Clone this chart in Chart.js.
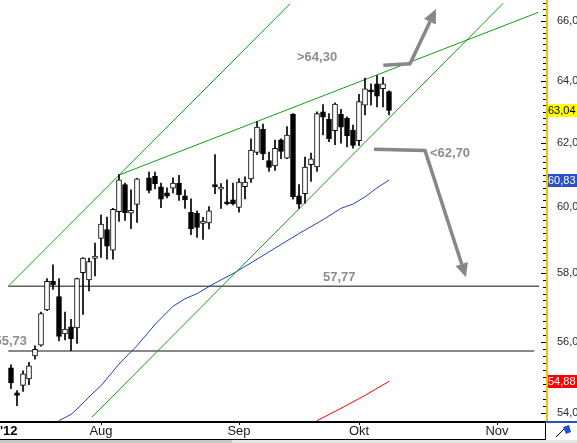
<!DOCTYPE html>
<html>
<head>
<meta charset="utf-8">
<script src="https://cdn.jsdelivr.net/npm/chart.js@4.4.0/dist/chart.umd.min.js"></script>
<style>
html, body { margin: 0; padding: 0; background: #fff; overflow: hidden; }
</style>
</head>
<body>
<canvas id="chart" width="577" height="443"></canvas>
<script>
// Daily candles: trading-day index (0 = first visible day, one day missing at 22)
const dayIdx = [0,1,2,3,4,5,6,7,8,9,10,11,12,13,14,15,16,17,18,19,20,21,
    23,24,25,26,27,28,29,30,31,32,33,34,35,36,37,38,39,40,41,42,43,44,45,46,47,48,49,50,
    51,52,53,54,55,56,57,58,59,60,61,62,63];
const opens = [55.26,54.56,54.77,54.95,55.60,55.91,56.92,57.76,57.31,56.23,56.43,56.40,58.02,57.80,58.44,59.04,59.31,58.69,59.86,60.69,59.81,60.08,
    60.90,60.95,60.62,60.44,60.58,60.74,60.34,59.84,59.81,59.50,59.51,60.68,60.55,60.16,60.22,59.99,60.63,60.87,61.70,62.43,61.44,61.27,62.10,61.52,62.92,60.34,60.41,61.31,
    61.24,62.99,62.75,62.39,62.92,62.78,62.41,62.07,63.21,63.70,63.90,63.74,63.65];
const highs = [55.35,54.62,55.18,55.42,55.89,56.86,57.84,58.25,57.84,56.86,56.65,57.86,58.47,58.45,58.90,59.76,59.69,59.96,61.00,60.74,60.53,60.89,
    61.08,61.08,60.74,60.59,60.90,60.98,60.53,60.25,59.88,59.68,60.01,61.63,60.72,60.84,60.74,60.88,60.93,62.13,62.68,62.60,61.71,62.09,62.13,62.52,62.94,60.69,61.55,61.68,
    62.99,63.23,62.94,63.28,63.07,62.83,62.57,63.56,64.09,63.90,64.17,64.11,63.67];
const lows = [54.68,54.20,54.60,54.79,55.51,55.88,56.90,57.52,56.03,56.06,55.75,55.96,56.79,57.48,57.92,58.47,58.42,58.42,59.56,59.59,59.34,59.53,
    60.43,60.56,59.98,60.28,60.43,60.20,59.96,59.16,59.07,59.01,59.33,60.41,59.96,60.06,60.06,59.84,60.25,60.76,61.63,61.47,61.10,61.13,61.50,61.50,60.24,59.96,60.12,60.79,
    61.10,62.25,62.04,61.94,61.99,61.87,61.83,61.91,62.89,63.21,63.15,63.15,62.89];
const closes = [54.84,54.49,55.09,55.32,55.79,56.82,57.76,57.66,56.16,56.37,56.09,57.84,58.45,58.35,58.51,59.48,58.81,59.93,60.84,59.83,59.90,60.87,
    60.51,60.71,60.24,60.33,60.74,60.38,60.22,59.33,59.38,59.57,59.88,60.63,60.57,60.10,60.10,60.77,60.77,61.77,62.50,61.65,61.23,61.83,61.73,62.25,60.32,60.09,61.24,61.50,
    62.94,62.82,62.13,63.24,62.50,62.23,61.92,63.32,63.74,63.64,63.50,63.90,63.04];

// Moving averages (read at sample days)
const maBlueIdx = [8,10,11,12,14,15,18,20,21,24,27,29,31,34,37,40,44,48,52,55,57,59,61,63];
const maBlueVal = [53.79,53.96,54.11,54.28,54.61,54.76,55.37,55.72,55.89,56.50,57.03,57.25,57.40,57.71,57.99,58.31,58.75,59.19,59.61,59.96,60.09,60.31,60.59,60.83];
const maRedIdx = [51,55,59,63];
const maRedVal = [53.79,54.13,54.49,54.88];

// Trend lines (start / end)
const upperTrendIdx = [17.88, 87.88];
const upperTrendVal = [60.98, 66.28];
const steepTrendIdx = [-0.45, 46.5];
const steepTrendVal = [57.62, 66.57];
const lowerTrendIdx = [13.45, 82.05];
const lowerTrendVal = [53.88, 66.59];

// Horizontal support lines
const levelVals = [57.62, 55.74];
const levelEnds = [88, 87.2];

// Scenario arrows
const arrowUpIdx = [62.05, 66.5, 70.83];
const arrowUpVal = [64.51, 64.56, 66.39];
const arrowDownIdx = [60.5, 69.0, 75.83];
const arrowDownVal = [61.80, 61.76, 57.88];

// Text notes
const noteText = ['>64,30', '<62,70', '57,77', '55,73'];
const noteIdx = [47.67, 69.83, 52.0, 2.67];
const noteVal = [64.78, 61.66, 57.88, 56.01];

// Axis ticks
const monthIdx = [15, 38, 58, 81];
const monthNames = ['Aug', 'Sep', 'Okt', 'Nov'];

const FONT = "'Liberation Sans', Arial, sans-serif";
Chart.defaults.font.family = FONT;

function pts(xs, ys) {
    return xs.map((v, k) => ({ x: v, y: ys[k] }));
}

function lineSet(xs, ys, color, width) {
    return {
        type: 'line',
        data: pts(xs, ys),
        borderColor: color,
        borderWidth: width,
        pointRadius: 0,
        fill: false,
        tension: 0,
        order: 5
    };
}

const overlay = {
    id: 'overlay',
    beforeDraw(chart) {
        const ctx = chart.ctx;
        ctx.save();
        ctx.fillStyle = '#ffffff';
        ctx.fillRect(0, 0, chart.width, chart.height);
        ctx.restore();
    },
    afterDraw(chart) {
        const ctx = chart.ctx;
        const area = chart.chartArea;
        const xs = chart.scales.x, ys = chart.scales.y;
        const px = v => xs.getPixelForValue(v);
        const py = v => ys.getPixelForValue(v);
        ctx.save();

        // arrows
        ctx.strokeStyle = '#878787';
        ctx.fillStyle = '#878787';
        ctx.lineWidth = 3.5;
        [[arrowUpIdx, arrowUpVal], [arrowDownIdx, arrowDownVal]].forEach(function(a) {
            const p = a[0].map((v, k) => [px(v), py(a[1][k])]);
            const n = p.length;
            const ang = Math.atan2(p[n-1][1] - p[n-2][1], p[n-1][0] - p[n-2][0]);
            const len = 14, half = 6.5;
            const bx = p[n-1][0] - len * Math.cos(ang), by = p[n-1][1] - len * Math.sin(ang);
            ctx.beginPath();
            ctx.moveTo(p[0][0], p[0][1]);
            for (let k = 1; k < n - 1; k++) ctx.lineTo(p[k][0], p[k][1]);
            ctx.lineTo(bx, by);
            ctx.stroke();
            ctx.beginPath();
            ctx.moveTo(p[n-1][0], p[n-1][1]);
            ctx.lineTo(bx + half * Math.sin(ang), by - half * Math.cos(ang));
            ctx.lineTo(bx - half * Math.sin(ang), by + half * Math.cos(ang));
            ctx.closePath();
            ctx.fill();
        });

        // notes
        ctx.font = 'bold 13px ' + FONT;
        ctx.fillStyle = '#8a8d92';
        ctx.textBaseline = 'middle';
        noteText.forEach(function(t, k) {
            ctx.textAlign = (k === 3) ? 'right' : 'left';
            ctx.fillText(t, px(noteIdx[k]), py(noteVal[k]));
        });

        // price axis line and ticks
        ctx.strokeStyle = '#f2c200';
        ctx.lineWidth = 2;
        ctx.beginPath();
        ctx.moveTo(area.right + 1, 0);
        ctx.lineTo(area.right + 1, area.bottom);
        ctx.stroke();
        ctx.strokeStyle = '#000';
        ctx.lineWidth = 1;
        ys.ticks.forEach(function(t) {
            const y = Math.round(py(t.value)) + 0.5;
            const l = t.label ? 5 : 3;
            ctx.beginPath();
            ctx.moveTo(area.right - l, y);
            ctx.lineTo(area.right, y);
            ctx.stroke();
        });

        // last value badges
        const badges = [
            [closes[closes.length - 1], '#ffff00', '#000'],
            [maBlueVal[maBlueVal.length - 1], '#2b4fc4', '#fff'],
            [maRedVal[maRedVal.length - 1], '#ff0000', '#fff']
        ];
        ctx.font = '11px ' + FONT;
        ctx.textAlign = 'left';
        badges.forEach(function(b) {
            const y = Math.round(py(b[0]));
            ctx.fillStyle = b[1];
            ctx.fillRect(area.right + 2, y - 6, 29, 13);
            ctx.fillStyle = b[2];
            ctx.fillText(b[0].toFixed(2).replace('.', ','), area.right + 2, y + 0.5);
        });

        // time axis frame
        ctx.fillStyle = '#000';
        ctx.fillRect(0, area.bottom, area.right, 2);
        ctx.fillRect(0, 439, area.right, 1);
        ctx.fillRect(area.right - 1, area.bottom, 1, 19);
        ctx.fillStyle = '#2b4fc4';
        ctx.fillRect(area.right, area.bottom, chart.width - area.right, 2);
        ctx.fillStyle = '#c8c8c8';
        ctx.fillRect(0, 440, 232, 3);
        ctx.fillStyle = '#e6e6e6';
        ctx.fillRect(232, 440, chart.width - 232, 3);
        ctx.fillStyle = '#000';
        monthIdx.forEach(function(m) {
            ctx.fillRect(Math.round(px(m)), area.bottom, 1, 4);
        });
        ctx.font = 'bold 13px ' + FONT;
        ctx.textAlign = 'left';
        ctx.fillText("'12", 0, 431);

        // small pen icon
        ctx.strokeStyle = '#000';
        ctx.lineWidth = 1;
        ctx.beginPath();
        ctx.moveTo(556, 437);
        ctx.lineTo(565, 428);
        ctx.stroke();
        ctx.fillStyle = '#1f4fd0';
        ctx.beginPath();
        ctx.moveTo(563, 427);
        ctx.lineTo(569, 425);
        ctx.lineTo(571, 432);
        ctx.lineTo(566, 434);
        ctx.closePath();
        ctx.fill();
        ctx.restore();
    }
};

new Chart(document.getElementById('chart'), {
    type: 'bar',
    data: {
        datasets: [
            {
                data: dayIdx.map((d, k) => ({ x: d, y: [opens[k], closes[k]] })),
                backgroundColor: dayIdx.map((d, k) => closes[k] < opens[k] ? '#000' : '#fff'),
                borderColor: '#000',
                borderWidth: 1,
                borderSkipped: false,
                barThickness: 5,
                minBarLength: 2,
                grouped: false,
                order: 1
            },
            {
                data: dayIdx.map((d, k) => ({ x: d, y: [lows[k], highs[k]] })),
                backgroundColor: '#000',
                borderWidth: 0,
                barThickness: 1,
                grouped: false,
                order: 2
            },
            lineSet(upperTrendIdx, upperTrendVal, '#14a014', 1),
            lineSet(steepTrendIdx, steepTrendVal, '#14a014', 1),
            lineSet(lowerTrendIdx, lowerTrendVal, '#14a014', 1),
            lineSet(maBlueIdx, maBlueVal, '#2440c0', 1),
            lineSet(maRedIdx, maRedVal, '#ff0000', 1),
            lineSet([-0.45, levelEnds[0]], [levelVals[0], levelVals[0]], '#606060', 1.5),
            lineSet([-0.45, levelEnds[1]], [levelVals[1], levelVals[1]], '#606060', 1.5)
        ]
    },
    options: {
        responsive: false,
        animation: false,
        devicePixelRatio: 1,
        layout: { padding: 0 },
        plugins: {
            legend: { display: false },
            tooltip: { enabled: false }
        },
        scales: {
            x: {
                type: 'linear',
                min: -11 / 6,
                max: 535 / 6,
                offset: false,
                grid: { display: false, offset: false },
                border: { display: false },
                afterBuildTicks: function(s) {
                    s.ticks = monthIdx.map(v => ({ value: v }));
                },
                afterFit: function(s) {
                    s.height = 22;
                    s.paddingLeft = 0;
                    s.paddingRight = 0;
                },
                ticks: {
                    autoSkip: false,
                    maxRotation: 0,
                    padding: -5,
                    color: '#1a1a1a',
                    font: { size: 13 },
                    callback: function(v) {
                        const k = monthIdx.indexOf(v);
                        return k < 0 ? '' : monthNames[k];
                    }
                }
            },
            y: {
                type: 'logarithmic',
                position: 'right',
                min: 53.78,
                max: 66.70,
                grid: { display: false },
                border: { display: false },
                afterBuildTicks: function(s) {
                    const t = [];
                    for (let k = 270; k <= 333; k++) t.push({ value: k / 5 });
                    s.ticks = t;
                },
                afterFit: function(s) {
                    s.width = 31;
                    s.paddingTop = 0;
                    s.paddingBottom = 0;
                },
                ticks: {
                    autoSkip: false,
                    padding: 3,
                    color: '#2a2a2a',
                    font: { size: 11 },
                    callback: function(v) {
                        const r = Math.round(v * 5);
                        return r % 10 === 0 ? (r / 5).toFixed(2).replace('.', ',') : '';
                    }
                }
            }
        }
    },
    plugins: [overlay]
});
</script>
</body>
</html>
